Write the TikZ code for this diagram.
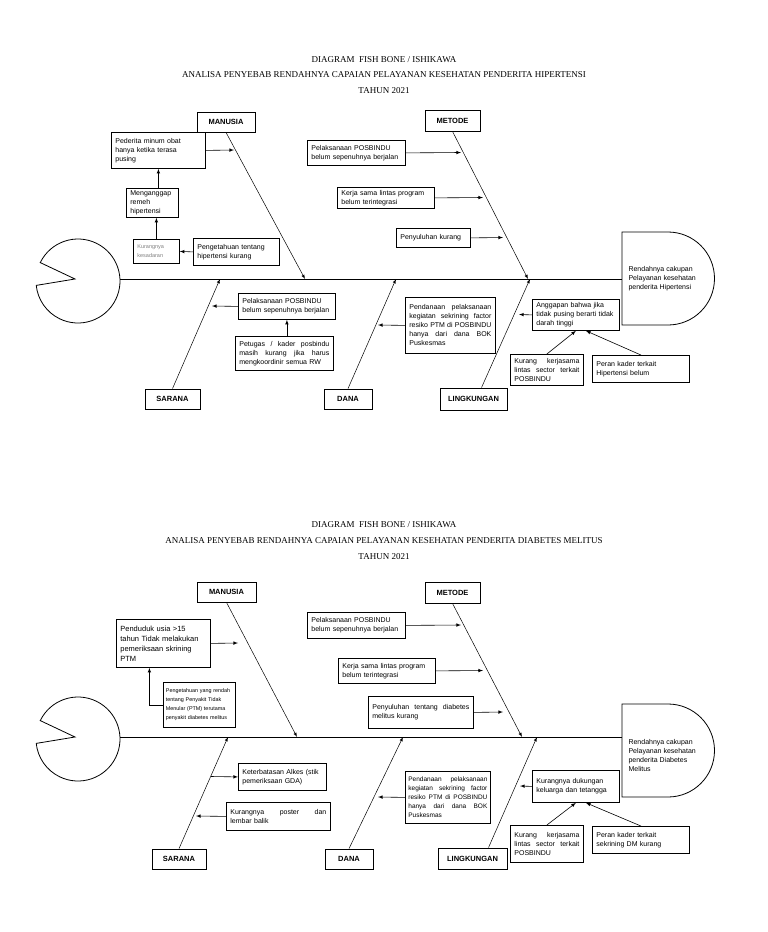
\documentclass[tikz,border=0pt]{standalone}
\usepackage{fontspec}
\setmainfont{Liberation Serif}
\setsansfont{Liberation Sans}
\usetikzlibrary{arrows}

\newcommand{\jl}[1]{\makebox[\hsize][s]{\spaceskip=0pt\xspaceskip=0pt #1}}

\begin{document}
\begin{tikzpicture}[
x=1pt, y=-1pt,
>=latex,
ttl/.style={font=\fontsize{9}{11}\selectfont},
cat/.style={draw, line width=.8pt, inner sep=0pt, font=\sffamily\bfseries\fontsize{7.5}{9}\selectfont},
cause/.style={draw, line width=.8pt, anchor=north west, align=left, inner xsep=4pt, inner ysep=2pt, font=\sffamily\fontsize{7}{9}\selectfont},
bone/.style={->, line width=.5pt},
link/.style={->, line width=.6pt}]
\useasboundingbox (0,0) rectangle (768,932);

% hipertensi
\node[ttl] (ta) at (384,60) {DIAGRAM\ \ FISH BONE / ISHIKAWA};
\node[ttl] (tb) at (384,75) {ANALISA PENYEBAB RENDAHNYA CAPAIAN PELAYANAN KESEHATAN PENDERITA HIPERTENSI};
\node[ttl] (tc) at (384,91) {TAHUN 2021};

\coordinate (tailA) at (120,279);
\coordinate (headA) at (622,279);
\draw[line width=.5pt] (tailA) -- (headA);
\draw[line width=.8pt] (75,279) -- ([shift={(-154:42)}]78,281) arc[start angle=-154, end angle=174, radius=42] -- cycle;
\draw[line width=.8pt] (622,232) -- (668,232) arc[start angle=-90, end angle=90, radius=46.5] -- (622,325) -- cycle;
\node[anchor=west, align=left, font=\sffamily\fontsize{7}{9}\selectfont] (hda) at (625,279) {Rendahnya cakupan\\ Pelayanan kesehatan\\ penderita Hipertensi};

\node[cat, minimum width=58, minimum height=20] (man) at (226,122) {MANUSIA};
\node[cat, minimum width=55, minimum height=21] (met) at (452.5,120.5) {METODE};
\node[cat, minimum width=55, minimum height=20] (sar) at (172.5,399) {SARANA};
\node[cat, minimum width=48, minimum height=20] (dan) at (348,399) {DANA};
\node[cat, minimum width=67, minimum height=22] (lin) at (473.5,399) {LINGKUNGAN};

\coordinate (jm) at (305,279);
\coordinate (jt) at (528,279);
\coordinate (js) at (220,279);
\coordinate (jd) at (396,279);
\coordinate (jl) at (530,279);
\draw[bone] (man.south) -- (jm);
\draw[bone] (met.south) -- (jt);
\draw[bone] (sar.north) -- (js);
\draw[bone] (dan.north) -- (jd);
\draw[bone] ([xshift=8]lin.north) -- (jl);

\node[cause, text width=86, minimum height=36] (m1) at (111,132) {Pederita minum obat\\ hanya ketika terasa\\ pusing};
\node[cause, text width=44, minimum height=29] (m2) at (126,188) {Menganggap\\ remeh\\ hipertensi};
\node[cause, text width=38, minimum height=24, text=gray, font=\sffamily\fontsize{5.5}{9}\selectfont] (m3) at (133,239) {Kurangnya\\ kesadaran};
\node[cause, text width=78, minimum height=27] (m4) at (193,238) {Pengetahuan tentang\\ hipertensi kurang};
\coordinate (m1e) at (234,150);
\draw[link] (m1.east) -- (m1e);
\draw[link] (m2.north -| m1.south) -- (m1.south);
\draw[link] (m3.north) -- (m3.north |- m2.south);
\draw[link] (m4.west) -- (m3.east);

\node[cause, text width=90, minimum height=25] (t1) at (307,140) {Pelaksanaan POSBINDU\\ belum sepenuhnya berjalan};
\node[cause, text width=89, minimum height=21] (t2) at (337,187) {Kerja sama lintas program\\ belum terintegrasi};
\node[cause, text width=66, minimum height=19] (t3) at (396,228) {Penyuluhan kurang};
\coordinate (t1e) at (461,152.5);
\coordinate (t2e) at (483,197.5);
\coordinate (t3e) at (503,237.5);
\draw[link] (t1.east) -- (t1e);
\draw[link] (t2.east) -- (t2e);
\draw[link] (t3.east) -- (t3e);

\node[cause, text width=89, minimum height=26] (s1) at (238,293) {Pelaksanaan POSBINDU\\ belum sepenuhnya berjalan};
\node[cause, text width=90, minimum height=34] (s2) at (235,336) {\jl{Petugas / kader posbindu}\\ \jl{masih kurang jika harus}\\ mengkoordinir semua RW};
\coordinate (s1e) at (212,306);
\draw[link] (s1.west) -- (s1e);
\draw[link] (s2.north -| s1.south) -- (s1.south);

\node[cause, text width=82, minimum height=56] (d1) at (405,297) {\jl{Pendanaan pelaksanaan}\\ \jl{kegiatan sekrining factor}\\ \jl{resiko PTM di POSBINDU}\\ \jl{hanya dari dana BOK}\\ Puskesmas};
\coordinate (d1e) at (378,325);
\draw[link] (d1.west) -- (d1e);

\node[cause, text width=79, minimum height=31] (l1) at (532,299) {Anggapan bahwa jika\\ tidak pusing berarti tidak\\ darah tinggi};
\node[cause, text width=65, minimum height=31] (l2) at (510,354) {\jl{Kurang kerjasama}\\ \jl{lintas sector terkait}\\ POSBINDU};
\node[cause, text width=89, minimum height=27] (l3) at (592,355) {Peran kader terkait\\ Hipertensi belum};
\coordinate (l1e) at (519,314.5);
\draw[link] (l1.west) -- (l1e);
\draw[link] (l2.north) -- (l1.south);
\draw[link] (l3.north) -- ([xshift=10]l1.south);

% diabetes melitus
\node[ttl] (ua) at (384,525) {DIAGRAM\ \ FISH BONE / ISHIKAWA};
\node[ttl] (ub) at (384,541) {ANALISA PENYEBAB RENDAHNYA CAPAIAN PELAYANAN KESEHATAN PENDERITA DIABETES MELITUS};
\node[ttl] (uc) at (384,557) {TAHUN 2021};

\coordinate (tailB) at (120,737);
\coordinate (headB) at (622,737);
\draw[line width=.5pt] (tailB) -- (headB);
\draw[line width=.8pt] (75,737) -- ([shift={(-154:42)}]78,739) arc[start angle=-154, end angle=174, radius=42] -- cycle;
\draw[line width=.8pt] (622,704) -- (668,704) arc[start angle=-90, end angle=90, radius=46.5] -- (622,797) -- cycle;
\node[anchor=west, align=left, font=\sffamily\fontsize{7}{9}\selectfont] (hdb) at (625,755) {Rendahnya cakupan\\ Pelayanan kesehatan\\ penderita Diabetes\\ Melitus};

\node[cat, minimum width=59, minimum height=20] (manb) at (226.5,592) {MANUSIA};
\node[cat, minimum width=55, minimum height=21] (metb) at (452.5,592.5) {METODE};
\node[cat, minimum width=54, minimum height=20] (sarb) at (179,859) {SARANA};
\node[cat, minimum width=48, minimum height=20] (danb) at (349,859) {DANA};
\node[cat, minimum width=69, minimum height=21] (linb) at (472.5,858.5) {LINGKUNGAN};

\coordinate (jmb) at (297,737);
\coordinate (jtb) at (522,737);
\coordinate (jsb) at (228,737);
\coordinate (jdb) at (403,737);
\coordinate (jlb) at (537,737);
\draw[bone] (manb.south) -- (jmb);
\draw[bone] (metb.south) -- (jtb);
\draw[bone] (sarb.north) -- (jsb);
\draw[bone] (danb.north) -- (jdb);
\draw[bone] ([xshift=16]linb.north) -- (jlb);

\node[cause, text width=86, minimum height=48, font=\sffamily\fontsize{7.5}{10}\selectfont] (n1) at (116,619) {Penduduk usia >15\\ tahun Tidak melakukan\\ pemeriksaan skrining\\ PTM};
\node[cause, text width=67, inner xsep=2.5pt, minimum height=45, font=\sffamily\fontsize{5.4}{9}\selectfont] (n2) at (163,682) {Pengetahuan yang rendah\\ tentang Penyakit Tidak\\ Menular (PTM) terutama\\ penyakit diabetes melitus};
\coordinate (n1e) at (238,643);
\draw[link] (n1.east) -- (n1e);
\draw[link] (n2.west) -| ([xshift=-14]n1.south);

\node[cause, text width=90, minimum height=26] (u1) at (307,612) {Pelaksanaan POSBINDU\\ belum sepenuhnya berjalan};
\node[cause, text width=89, minimum height=25] (u2) at (338,658) {Kerja sama lintas program\\ belum terintegrasi};
\node[cause, text width=97, minimum height=32] (u3) at (368,696) {\jl{Penyuluhan tentang diabetes}\\ melitus kurang};
\coordinate (u1e) at (461,625);
\coordinate (u2e) at (483,670.5);
\coordinate (u3e) at (503,712);
\draw[link] (u1.east) -- (u1e);
\draw[link] (u2.east) -- (u2e);
\draw[link] (u3.east) -- (u3e);

\node[cause, text width=80, minimum height=27] (r1) at (238,763) {Keterbatasan Alkes (stik\\ pemeriksaan GDA)};
\node[cause, text width=96, minimum height=28] (r2) at (226,802) {\jl{Kurangnya poster dan}\\ lembar balik};
\coordinate (r1s) at (211,776.5);
\coordinate (r2e) at (196,816);
\draw[link] (r1s) -- (r1.west);
\draw[link] (r2.west) -- (r2e);

\node[cause, text width=79, inner xsep=3pt, minimum height=52, font=\sffamily\fontsize{6.5}{9}\selectfont] (f1) at (405,771) {\jl{Pendanaan pelaksanaan}\\ \jl{kegiatan sekrining factor}\\ \jl{resiko PTM di POSBINDU}\\ \jl{hanya dari dana BOK}\\ Puskesmas};
\coordinate (f1e) at (378,797);
\draw[link] (f1.west) -- (f1e);

\node[cause, text width=79, minimum height=32] (k1) at (532,770) {Kurangnya dukungan\\ keluarga dan tetangga};
\node[cause, text width=65, minimum height=37] (k2) at (510,825) {\jl{Kurang kerjasama}\\ \jl{lintas sector terkait}\\ POSBINDU};
\node[cause, text width=89, minimum height=27] (k3) at (592,826) {Peran kader terkait\\ sekrining DM kurang};
\coordinate (k1e) at (520,786);
\draw[link] (k1.west) -- (k1e);
\draw[link] (k2.north) -- (k1.south);
\draw[link] (k3.north) -- ([xshift=10]k1.south);
\end{tikzpicture}
\end{document}
